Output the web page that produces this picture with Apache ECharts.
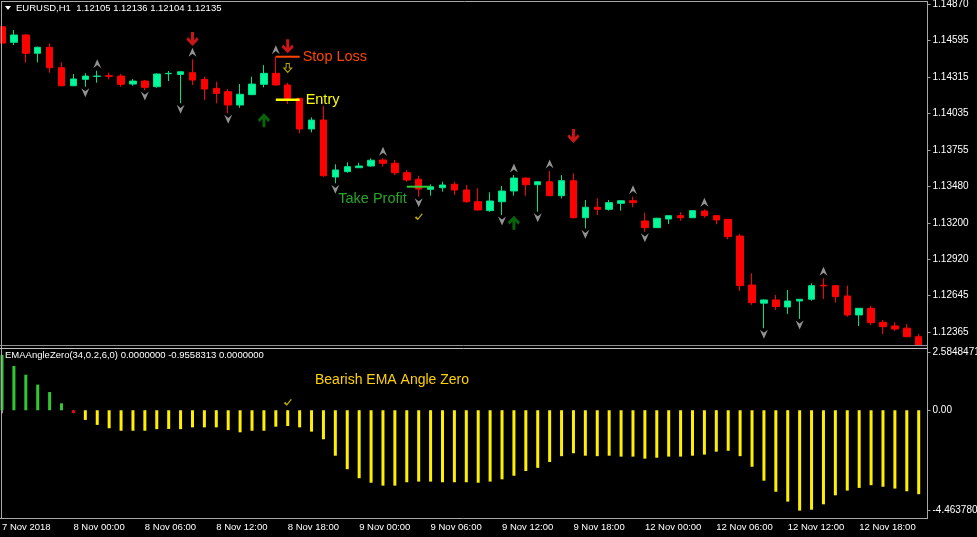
<!DOCTYPE html>
<html><head><meta charset="utf-8">
<script src="https://cdn.jsdelivr.net/npm/echarts@6/dist/echarts.min.js"></script>
<style>html,body{margin:0;padding:0;background:#000;}#c{width:977px;height:537px;}</style>
</head><body><div id="c"></div>
<script>
// ---- categories (hourly bars) ----
const dayHours = [['7 Nov', 18, 23], ['8 Nov', 0, 23], ['9 Nov', 0, 23], ['12 Nov', 0, 23]];
const categories = [];
dayHours.forEach(([d, a, b]) => { for (let h = a; h <= b; h++) categories.push(d + ' ' + (h < 10 ? '0' : '') + h + ':00'); });
const timeLabels = ['7 Nov 2018','8 Nov 00:00','8 Nov 06:00','8 Nov 12:00','8 Nov 18:00','9 Nov 00:00','9 Nov 06:00','9 Nov 12:00','9 Nov 18:00','12 Nov 00:00','12 Nov 06:00','12 Nov 12:00','12 Nov 18:00'];
const priceTicks = [1.14870,1.14595,1.14315,1.14035,1.13755,1.13480,1.13200,1.12920,1.12645,1.12365];
const angleTicks = [2.5848471, 0, -4.4637805];

// ---- OHLC ----
const open = [1.14699,1.14580,1.14636,1.14496,1.14542,1.14386,1.14248,1.14297,1.14320,1.14325,
1.14322,1.14261,1.14284,1.14241,1.14340,1.14335,1.14348,1.14297,1.14228,1.14203,
1.14101,1.14180,1.14259,1.14343,1.14254,1.14152,1.13918,1.13986,1.13551,1.13592,
1.13622,1.13635,1.13681,1.13656,1.13584,1.13534,1.13457,1.13469,1.13495,1.13452,
1.13362,1.13294,1.13362,1.13444,1.13543,1.13492,1.13515,1.13408,1.13523,1.13240,
1.13320,1.13304,1.13350,1.13370,1.13215,1.13164,1.13230,1.13256,1.13240,1.13291,
1.13256,1.13228,1.13100,1.12726,1.12587,1.12612,1.12558,1.12604,1.12617,1.12724,
1.12721,1.12642,1.12497,1.12548,1.12441,1.12413,1.12396,1.12331];
const close = [1.14574,1.14636,1.14496,1.14542,1.14386,1.14248,1.14300,1.14322,1.14322,1.14320,
1.14259,1.14284,1.14236,1.14338,1.14343,1.14355,1.14292,1.14223,1.14190,1.14101,
1.14183,1.14261,1.14343,1.14254,1.14152,1.13918,1.13986,1.13561,1.13605,1.13630,
1.13635,1.13679,1.13656,1.13584,1.13528,1.13459,1.13477,1.13490,1.13452,1.13362,
1.13299,1.13368,1.13444,1.13543,1.13492,1.13515,1.13408,1.13523,1.13240,1.13320,
1.13304,1.13355,1.13370,1.13355,1.13164,1.13236,1.13256,1.13240,1.13294,1.13256,
1.13223,1.13095,1.12721,1.12591,1.12612,1.12561,1.12604,1.12617,1.12721,1.12719,
1.12637,1.12497,1.12548,1.12438,1.12408,1.12390,1.12331,1.12268];
const high = [1.14720,1.14674,1.14643,1.14546,1.14572,1.14427,1.14338,1.14343,1.14363,1.14348,
1.14338,1.14300,1.14292,1.14343,1.14361,1.14361,1.14450,1.14317,1.14279,1.14223,
1.14261,1.14317,1.14406,1.14470,1.14271,1.14154,1.14007,1.14093,1.13648,1.13663,
1.13660,1.13694,1.13694,1.13681,1.13605,1.13561,1.13495,1.13515,1.13515,1.13490,
1.13465,1.13434,1.13482,1.13566,1.13547,1.13519,1.13597,1.13566,1.13579,1.13375,
1.13388,1.13375,1.13375,1.13401,1.13278,1.13240,1.13259,1.13282,1.13297,1.13304,
1.13259,1.13230,1.13116,1.12816,1.12615,1.12650,1.12688,1.12619,1.12739,1.12777,
1.12724,1.12721,1.12550,1.12566,1.12459,1.12441,1.12428,1.12352];
const low = [1.14567,1.14559,1.14424,1.14427,1.14348,1.14246,1.14246,1.14241,1.14271,1.14297,
1.14241,1.14248,1.14215,1.14233,1.14284,1.14114,1.14254,1.14139,1.14114,1.14038,
1.14080,1.14177,1.14236,1.14250,1.14109,1.13885,1.13892,1.13553,1.13503,1.13584,
1.13620,1.13630,1.13630,1.13566,1.13515,1.13401,1.13408,1.13439,1.13414,1.13355,
1.13294,1.13286,1.13261,1.13408,1.13408,1.13286,1.13406,1.13388,1.13234,1.13159,
1.13261,1.13294,1.13294,1.13320,1.13133,1.13162,1.13192,1.13217,1.13238,1.13240,
1.13190,1.13075,1.12680,1.12574,1.12396,1.12535,1.12505,1.12467,1.12606,1.12619,
1.12591,1.12484,1.12413,1.12421,1.12352,1.12375,1.12329,1.12264];

// ---- EMA angle histogram ----
const angleValues = [2.46,1.97,1.58,1.14,0.81,0.31,-0.12,-0.43,-0.65,-0.80,
-0.91,-0.91,-0.91,-0.84,-0.83,-0.84,-0.76,-0.76,-0.76,-0.88,
-0.98,-0.91,-0.91,-0.73,-0.70,-0.76,-0.95,-1.29,-2.02,-2.62,
-3.02,-3.22,-3.35,-3.35,-3.20,-3.17,-3.17,-3.20,-3.20,-3.20,
-3.22,-3.17,-3.07,-2.91,-2.70,-2.56,-2.30,-2.04,-1.91,-2.02,
-2.04,-2.02,-2.06,-2.06,-2.15,-2.11,-2.06,-2.06,-2.02,-1.97,
-1.84,-1.80,-2.04,-2.51,-3.13,-3.62,-4.06,-4.46,-4.42,-4.18,
-3.78,-3.57,-3.45,-3.33,-3.40,-3.48,-3.60,-3.73];
const angleCrossIndex = 6;

// ---- signals ----
const upFractalIdx = [8,16,23,32,43,46,53,59,69];
const downFractalIdx = [7,12,15,19,28,35,42,45,49,54,64,67];
const sellArrows = [[16,1.14606],[24,1.14549],[48,1.13864]];
const buyArrows = [[22,1.13984],[43,1.13201]];
const exitArrows = [[24,1.14384]];
const priceChecks = [[35,1.13248]];
const angleChecks = [[24,0.36]];
const stopLoss = [[23,1.14470],[25,1.14470]];
const entry = [[23,1.14141],[25,1.14141]];
const takeProfit = [[34,1.13477],[36,1.13477]];

const FONT = '"Liberation Sans", Arial, sans-serif';
const chart = echarts.init(document.getElementById('c'));
const axisLbl = { color: '#ffffff', fontSize: 9.5, fontFamily: FONT, margin: 5 };
const tickStyle = { color: '#a0a0a0', width: 1 };

chart.setOption({
  animation: false,
  backgroundColor: '#000000',
  grid: [
    { left: 2, right: 58.3, top: 2, height: 344, outerBoundsMode: 'none', containLabel: false },
    { left: 2, right: 58.3, top: 352.1, height: 158.6, outerBoundsMode: 'none', containLabel: false }
  ],
  xAxis: [
    { type: 'category', gridIndex: 0, data: categories, boundaryGap: false, show: false },
    { type: 'category', gridIndex: 1, data: categories, boundaryGap: false, position: 'bottom', offset: 7.6,
      axisLine: { show: false },
      axisTick: { show: true, interval: 5, length: 3, lineStyle: tickStyle },
      axisLabel: Object.assign({}, axisLbl, { interval: 5, align: 'left', margin: 4,
        formatter: (v, i) => timeLabels[Math.round(i / 6)] }),
      splitLine: { show: false } }
  ],
  yAxis: [
    { type: 'value', gridIndex: 0, position: 'right', offset: 8.8, min: 1.12260, max: 1.14888, scale: true,
      axisLine: { show: false }, splitLine: { show: false },
      axisTick: { show: true, length: 3, customValues: priceTicks, lineStyle: tickStyle },
      axisLabel: Object.assign({}, axisLbl, { customValues: priceTicks, fontSize: 10, formatter: v => v.toFixed(5) }) },
    { type: 'value', gridIndex: 1, position: 'right', offset: 8.8, min: -4.4637805, max: 2.5848471,
      axisLine: { show: false }, splitLine: { show: false },
      axisTick: { show: true, length: 3, customValues: angleTicks, lineStyle: tickStyle },
      axisLabel: Object.assign({}, axisLbl, { customValues: angleTicks, fontSize: 10,
        formatter: v => (v === 0 ? '0.00' : v.toFixed(7)) }) }
  ],
  series: [
    { type: 'candlestick', xAxisIndex: 0, yAxisIndex: 0, barWidth: 7, clip: false, z: 2,
      data: categories.map((c, i) => [open[i], close[i], low[i], high[i]]),
      itemStyle: { color: '#00FA9A', color0: '#FF0000', borderColor: '#00E08A', borderColor0: '#FF0000', borderWidth: 1 } },
    { type: 'scatter', xAxisIndex: 0, yAxisIndex: 0, z: 4,
      data: upFractalIdx.map(i => [i, high[i]]),
      symbol: 'path://M5,0 L10,10 L5,6.5 L0,10 Z', symbolSize: [8, 9], symbolOffset: [0, -7],
      itemStyle: { color: '#b8b8b8' } },
    { type: 'scatter', xAxisIndex: 0, yAxisIndex: 0, z: 4,
      data: downFractalIdx.map(i => [i, low[i]]),
      symbol: 'path://M0,0 L5,3.5 L10,0 L5,10 Z', symbolSize: [8, 9], symbolOffset: [0, 6],
      itemStyle: { color: '#b8b8b8' } },
    { type: 'scatter', xAxisIndex: 0, yAxisIndex: 0, z: 5, data: sellArrows,
      symbol: 'path://M4.5,0 L7.5,0 L7.5,8 L10.5,5 L12,7.5 L6,13.5 L0,7.5 L1.5,5 L4.5,8 Z', symbolSize: [12, 14],
      itemStyle: { color: '#FF1A1A' } },
    { type: 'scatter', xAxisIndex: 0, yAxisIndex: 0, z: 5, data: buyArrows,
      symbol: 'path://M4.5,13.5 L7.5,13.5 L7.5,5.5 L10.5,8.5 L12,6 L6,0 L0,6 L1.5,8.5 L4.5,5.5 Z', symbolSize: [12, 14],
      itemStyle: { color: '#0A7D0A' } },
    { type: 'scatter', xAxisIndex: 0, yAxisIndex: 0, z: 5, data: exitArrows,
      symbol: 'path://M3,0 L7,0 L7,5 L10,5 L5,10 L0,5 L3,5 Z', symbolSize: [8, 9],
      itemStyle: { color: 'rgba(0,0,0,0)', borderColor: '#E8D400', borderWidth: 1 } },
    { type: 'scatter', xAxisIndex: 0, yAxisIndex: 0, z: 5, data: priceChecks,
      symbol: 'path://M0,6 L2,4 L4,6.5 L9,0 L10,1.5 L4,9 Z', symbolSize: [8, 7],
      itemStyle: { color: '#E8D400' } },
    { type: 'line', xAxisIndex: 0, yAxisIndex: 0, z: 6, data: stopLoss, symbol: 'none',
      lineStyle: { color: '#FF4500', width: 2 },
      endLabel: { show: true, formatter: 'Stop Loss', color: '#FF4500', fontSize: 14.5, fontFamily: FONT, distance: 3 } },
    { type: 'line', xAxisIndex: 0, yAxisIndex: 0, z: 6, data: entry, symbol: 'none',
      lineStyle: { color: '#FFFF00', width: 2.5 },
      endLabel: { show: true, formatter: 'Entry', color: '#FFFF00', fontSize: 14.5, fontFamily: FONT, distance: 6 } },
    { type: 'line', xAxisIndex: 0, yAxisIndex: 0, z: 6, data: takeProfit, symbol: 'none',
      lineStyle: { color: '#32CD32', width: 2 } },
    { type: 'scatter', xAxisIndex: 0, yAxisIndex: 0, z: 6, data: [takeProfit[0]],
      symbol: 'circle', symbolSize: 0,
      label: { show: true, position: 'left', distance: 0, offset: [0, 12], formatter: 'Take Profit',
        color: '#32CD32', fontSize: 14.5, fontFamily: FONT } },
    { type: 'bar', xAxisIndex: 1, yAxisIndex: 1, barWidth: 3, z: 2,
      data: angleValues,
      itemStyle: { color: p => (p.dataIndex === angleCrossIndex ? '#FF0000' : (p.value > 0 ? '#32C832' : '#FFF000')) } },
    { type: 'scatter', xAxisIndex: 1, yAxisIndex: 1, z: 5, data: angleChecks,
      symbol: 'path://M0,6 L2,4 L4,6.5 L9,0 L10,1.5 L4,9 Z', symbolSize: [8, 7],
      itemStyle: { color: '#E8D400' } }
  ],
  graphic: [
    { type: 'line', z: 100, shape: { x1: 1.5, y1: 1.5, x2: 927.5, y2: 1.5 }, style: { stroke: '#a8a8a8', lineWidth: 1 } },
    { type: 'line', z: 100, shape: { x1: 1.5, y1: 1, x2: 1.5, y2: 519 }, style: { stroke: '#a8a8a8', lineWidth: 1 } },
    { type: 'line', z: 100, shape: { x1: 927.5, y1: 1, x2: 927.5, y2: 519 }, style: { stroke: '#a8a8a8', lineWidth: 1 } },
    { type: 'line', z: 100, shape: { x1: 0, y1: 345.5, x2: 927.5, y2: 345.5 }, style: { stroke: '#909090', lineWidth: 1 } },
    { type: 'line', z: 100, shape: { x1: 0, y1: 348.5, x2: 927.5, y2: 348.5 }, style: { stroke: '#c0c0c0', lineWidth: 1 } },
    { type: 'line', z: 100, shape: { x1: 0, y1: 518.5, x2: 927.5, y2: 518.5 }, style: { stroke: '#a8a8a8', lineWidth: 1 } },
    { type: 'polygon', z: 100, shape: { points: [[5, 6], [11, 6], [8, 10]] }, style: { fill: '#ffffff' } },
    { type: 'text', z: 100, left: 16, top: 3, style: { text: 'EURUSD,H1  1.12105 1.12136 1.12104 1.12135', fill: '#ffffff', font: '9.5px ' + FONT } },
    { type: 'text', z: 100, left: 5, top: 350, style: { text: 'EMAAngleZero(34,0.2,6,0) 0.0000000 -0.9558313 0.0000000', fill: '#ffffff', font: '9.5px ' + FONT } },
    { type: 'text', z: 100, left: 315, top: 373, style: { text: 'Bearish EMA Angle Zero', fill: '#FFD200', font: '14px ' + FONT } }
  ]
});
</script></body></html>
